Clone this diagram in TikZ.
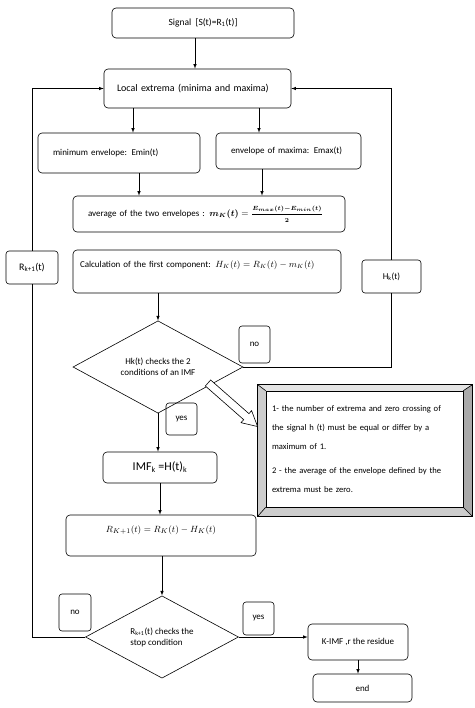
\documentclass[tikz,border=0pt]{standalone}
\usepackage{amsmath}
\usepackage{amssymb}
\usepackage{fontspec}
\setmainfont{Carlito}
\usepackage{tikz}
\usetikzlibrary{arrows,shapes,positioning,calc}
\usepackage{xcolor}
\definecolor{bevtop}{RGB}{228,228,228}
\definecolor{bevside}{RGB}{205,205,205}
\definecolor{bevdark}{RGB}{170,170,170}
\tikzstyle{arrow} = [line width=0.6pt,->,>=latex]
\tikzstyle{line} = [line width=0.6pt]
\tikzstyle{procbox} = [draw, line width=0.6pt, rounded corners=4pt, inner sep=0pt, font=\fontsize{9}{11}\selectfont]
\tikzstyle{flagbox} = [procbox, rounded corners=3pt]
\tikzstyle{decision} = [draw, line width=0.6pt, diamond, inner sep=0pt, font=\fontsize{9}{11}\selectfont]

\begin{document}
\begin{tikzpicture}[x=1pt, y=-1pt]
\useasboundingbox (0,0) rectangle (474,708);

% top of the chart
\node[procbox, minimum width=182, minimum height=30, font=\fontsize{9.5}{11}\selectfont] (signal) at (203,23) {Signal~~[S(t)=R\textsubscript{1}(t)]};
\node[procbox, minimum width=187, minimum height=39, inner xsep=13pt, text width=161pt, align=left, font=\fontsize{10}{12}\selectfont] (local) at (197.5,88.5) {Local extrema (minima and maxima)};

% the two envelopes
\node[procbox, minimum width=162, minimum height=40, inner xsep=15pt, text width=132pt, align=left] (minenv) at (119,153) {minimum envelope: Emin(t)};
\node[procbox, minimum width=145, minimum height=36, inner xsep=15pt, text width=115pt, align=left] (maxenv) at (288.5,151) {envelope of maxima: Emax(t)};
\node[procbox, minimum width=272, minimum height=36, inner xsep=15pt, text width=242pt, align=left] (avg) at (209,214) {average of the two envelopes : $\boldsymbol{m_K(t)} = \dfrac{\scriptstyle\boldsymbol{E_{max}(t)-E_{min}(t)}}{\scriptstyle\boldsymbol{2}}$};

% first component
\node[procbox, minimum width=268, inner xsep=7pt, text width=254pt, text height=17pt, text depth=26pt, align=left] (calc) at (207,271.5) {Calculation of the first component: $H_K(t) = R_K(t) - m_K(t)$};
\node[flagbox, minimum width=52, minimum height=33, font=\fontsize{10}{12}\selectfont] (rk1) at (32,267.5) {R\textsubscript{k+1}(t)};
\node[flagbox, minimum width=59, minimum height=33] (hk) at (391.5,276.5) {H\textsubscript{k}(t)};

% IMF test
\node[decision, minimum width=170, minimum height=80, align=center] (dec1) at (158,367) {Hk(t) checks the 2\\conditions of an IMF};
\node[flagbox, minimum width=31, minimum height=37] (no1) at (254.5,344.5) {no};
\node[flagbox, minimum width=31, minimum height=32] (yes1) at (181.5,419) {yes};
\node[procbox, minimum width=114, minimum height=31, font=\fontsize{12}{14}\selectfont] (imf) at (160,467.5) {IMF\textsubscript{k} =H(t)\textsubscript{k}};
\node[procbox, minimum width=190, text height=17pt, text depth=24pt, font=\fontsize{9.5}{11}\selectfont] (rnext) at (161,535.5) {$R_{K+1}(t) = R_K(t) - H_K(t)$};

% the two conditions, bevelled frame
\node[draw, line width=0.6pt, fill=bevdark, minimum width=214, minimum height=131] (cond) at (365,450.5) {};
\fill[bevtop] (cond.north west) -- (cond.north east) -- (463,391) -- (266,391) -- cycle;
\fill[bevside] (cond.north west) -- (cond.south west) -- (266,507) -- (266,391) -- cycle;
\fill[bevside] (cond.south west) -- (cond.south east) -- (463,507) -- (266,507) -- cycle;
\node[draw, line width=0.6pt, fill=white, minimum width=197, minimum height=116, inner xsep=6pt, text width=185pt, align=left, font=\fontsize{8.6}{19}\selectfont] (condtext) at (364.5,449) {1- the number of extrema and zero crossing of\\the signal h (t) must be equal or differ by a\\maximum of 1.\\[5pt]2 - the average of the envelope defined by the\\extrema must be zero.};
\draw[line] (cond.north west) -- (condtext.north west);
\draw[line] (cond.north east) -- (condtext.north east);
\draw[line] (cond.south west) -- (condtext.south west);
\draw[line] (cond.south east) -- (condtext.south east);
\draw[line] (cond.north west) rectangle (cond.south east);

% hollow arrow to the conditions
\begin{scope}[shift={(208,383)}, rotate=-41.3]
\draw[line, fill=white] (0,-4) -- (51,-4) -- (51,-8) -- (66,0) -- (51,8) -- (51,4) -- (0,4) -- cycle;
\end{scope}

% stop test
\node[decision, minimum width=153, minimum height=72, align=left] (dec2) at (162,637) {R\textsubscript{k+1}(t) checks the\\stop condition};
\node[flagbox, minimum width=32, minimum height=37] (no2) at (75,612.5) {no};
\node[flagbox, minimum width=31, minimum height=33] (yes2) at (258.5,618.5) {yes};
\node[procbox, minimum width=100, minimum height=36] (kimf) at (358,642) {K-IMF ,r the residue};
\node[procbox, minimum width=99, minimum height=28] (finish) at (362.5,688) {end};

% connectors
\draw[arrow] ([xshift=-8pt]signal.south) -- ([xshift=-8pt]signal.south |- local.north);
\draw[arrow] ([xshift=14pt]minenv.north |- local.south) -- ([xshift=14pt]minenv.north);
\draw[arrow] ([xshift=-29.5pt]maxenv.north |- local.south) -- ([xshift=-29.5pt]maxenv.north);
\draw[arrow] ([xshift=20pt]minenv.south) -- ([xshift=20pt]minenv.south |- avg.north);
\draw[arrow] ([xshift=-26.5pt]maxenv.south) -- ([xshift=-26.5pt]maxenv.south |- avg.north);
\draw[arrow] (calc.south -| dec1.north) -- (dec1.north);
\draw[arrow] (dec1.south) -- (dec1.south |- imf.north);
\draw[arrow] (imf.south) -- (imf.south |- rnext.north);
\draw[arrow] (rnext.south -| dec2.north) -- (dec2.north);
\draw[arrow] (dec2.east) -- (dec2.east -| kimf.west);
\draw[arrow] (kimf.south) -- (kimf.south |- finish.north);

% loops back to the extrema
\draw[line] (dec1.east) -| (hk);
\draw[arrow] (hk) |- (local.east);
\draw[line] (dec2.west) -| (rk1);
\draw[arrow] (rk1) |- (local.west);
\end{tikzpicture}
\end{document}
